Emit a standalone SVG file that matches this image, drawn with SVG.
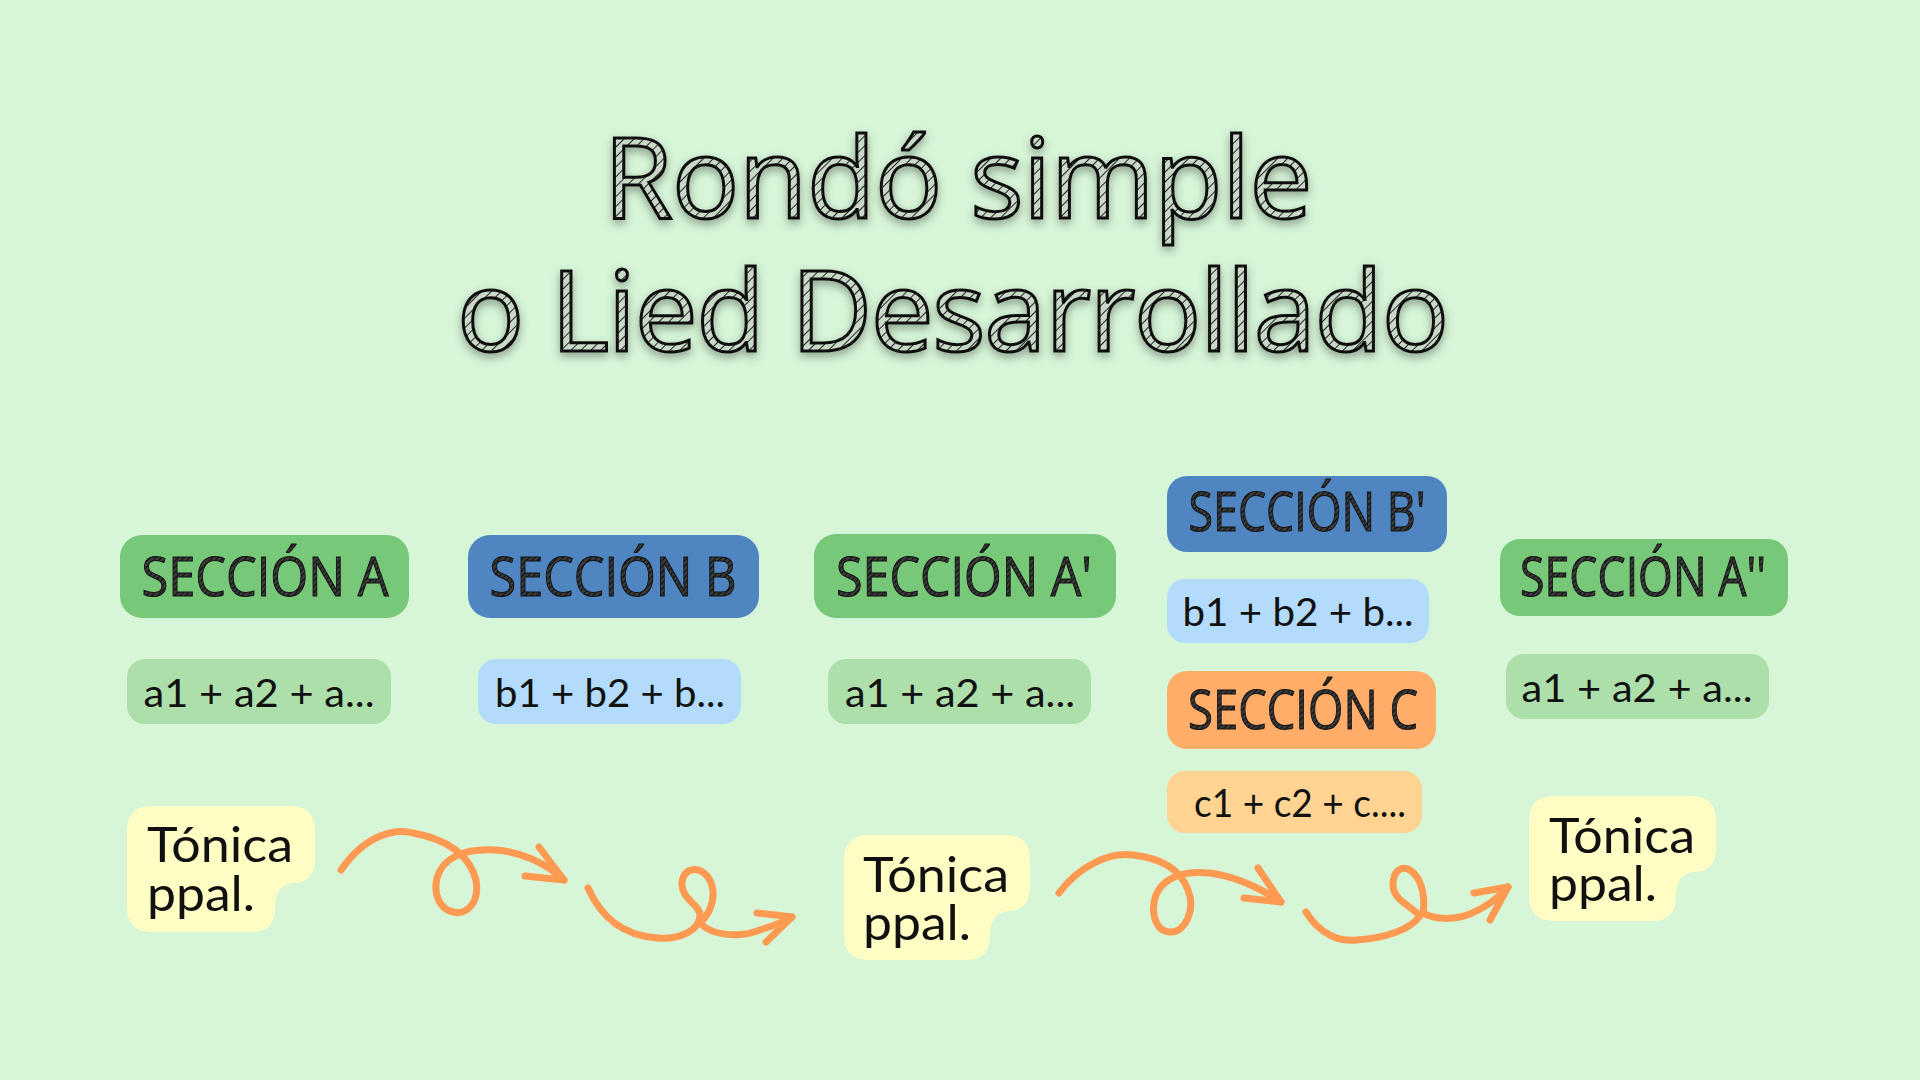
<svg xmlns="http://www.w3.org/2000/svg" width="1920" height="1080" viewBox="0 0 1920 1080">
<defs>
  <pattern id="hatch" width="7" height="7" patternUnits="userSpaceOnUse" patternTransform="rotate(45)">
    <rect width="7" height="7" fill="#c9d9c8"/>
    <line x1="0" y1="0" x2="0" y2="7" stroke="#222" stroke-width="2"/>
  </pattern>
  <pattern id="hatchS" width="4" height="4" patternUnits="userSpaceOnUse" patternTransform="rotate(45)">
    <rect width="4" height="4" fill="#3a3a3a"/>
    <line x1="0" y1="0" x2="0" y2="4" stroke="#000" stroke-width="1.5"/>
  </pattern>
  <filter id="shadow" x="-10%" y="-20%" width="120%" height="140%">
    <feDropShadow dx="0" dy="4" stdDeviation="5" flood-color="#000" flood-opacity="0.35"/>
  </filter>
</defs>
<style>
  .title { font-family: "Open Sans", "Noto Sans", sans-serif; font-size: 112px; fill: url(#hatch); stroke: #111; stroke-width: 3; text-anchor: middle; }
  .head { font-family: "Open Sans", "Noto Sans", sans-serif; font-size: 54px; fill: url(#hatchS); stroke: #111; stroke-width: 1; text-anchor: middle; }
  .sub { font-family: "Lato", "Noto Sans", sans-serif; font-size: 38px; fill: #111; text-anchor: middle; }
  .ton { font-family: "Lato", "Noto Sans", sans-serif; font-size: 48px; fill: #111; }
  .green { fill: #78c87a; }
  .blue { fill: #4f86c2; }
  .orange { fill: #ffad69; }
  .lgreen { fill: #acdfaa; }
  .lblue { fill: #b3dcfc; }
  .lorange { fill: #ffd493; }
  .yellow { fill: #fffdc3; }
  .arrow { fill: none; stroke: #ff9a52; stroke-width: 7; stroke-linecap: round; stroke-linejoin: round; }
</style>
<rect width="1920" height="1080" fill="#d7f6d8"/>

<g id="title" filter="url(#shadow)">
  <text class="title" x="958" y="218" textLength="709" lengthAdjust="spacing">Rondó simple</text>
  <text class="title" x="953" y="351" textLength="992" lengthAdjust="spacing">o Lied Desarrollado</text>
</g>

<g id="seccion-a">
  <rect class="green" x="120" y="535" width="289" height="83" rx="22"/>
  <text class="head" x="265" y="596" textLength="247" lengthAdjust="spacingAndGlyphs">SECCIÓN A</text>
</g>
<g id="seccion-a-detail">
  <rect class="lgreen" x="127" y="659" width="264" height="65" rx="18"/>
  <text class="sub" x="259" y="707" textLength="231" lengthAdjust="spacingAndGlyphs">a1 + a2 + a...</text>
</g>

<g id="seccion-b">
  <rect class="blue" x="468" y="535" width="291" height="83" rx="22"/>
  <text class="head" x="613" y="596" textLength="247" lengthAdjust="spacingAndGlyphs">SECCIÓN B</text>
</g>
<g id="seccion-b-detail">
  <rect class="lblue" x="478" y="659" width="263" height="65" rx="18"/>
  <text class="sub" x="610" y="707" textLength="230" lengthAdjust="spacingAndGlyphs">b1 + b2 + b...</text>
</g>

<g id="seccion-a1">
  <rect class="green" x="814" y="534" width="302" height="84" rx="22"/>
  <text class="head" x="964" y="596" textLength="256" lengthAdjust="spacingAndGlyphs">SECCIÓN A'</text>
</g>
<g id="seccion-a1-detail">
  <rect class="lgreen" x="828" y="659" width="263" height="65" rx="18"/>
  <text class="sub" x="960" y="707" textLength="230" lengthAdjust="spacingAndGlyphs">a1 + a2 + a...</text>
</g>

<g id="seccion-b1">
  <rect class="blue" x="1167" y="476" width="280" height="76" rx="20"/>
  <text class="head" x="1307" y="531" textLength="237" lengthAdjust="spacingAndGlyphs">SECCIÓN B'</text>
</g>
<g id="seccion-b1-detail">
  <rect class="lblue" x="1167" y="579" width="262" height="64" rx="18"/>
  <text class="sub" x="1298" y="626" textLength="231" lengthAdjust="spacingAndGlyphs">b1 + b2 + b...</text>
</g>

<g id="seccion-c">
  <rect class="orange" x="1167" y="671" width="269" height="78" rx="20"/>
  <text class="head" x="1303" y="729" textLength="230" lengthAdjust="spacingAndGlyphs">SECCIÓN C</text>
</g>
<g id="seccion-c-detail">
  <rect class="lorange" x="1167" y="771" width="255" height="62" rx="18"/>
  <text class="sub" x="1300" y="817" textLength="212" lengthAdjust="spacingAndGlyphs">c1 + c2 + c....</text>
</g>

<g id="seccion-a2">
  <rect class="green" x="1500" y="539" width="288" height="77" rx="20"/>
  <text class="head" x="1643" y="596" textLength="246" lengthAdjust="spacingAndGlyphs">SECCIÓN A''</text>
</g>
<g id="seccion-a2-detail">
  <rect class="lgreen" x="1506" y="654" width="263" height="65" rx="18"/>
  <text class="sub" x="1637" y="702" textLength="231" lengthAdjust="spacingAndGlyphs">a1 + a2 + a...</text>
</g>

<g id="tonica-1">
  <path class="yellow" d="M152,806 H290 Q315,806 315,831 V858 Q315,883 293,883 Q275,885 275,907 Q275,932 252,932 H152 Q127,932 127,907 V831 Q127,806 152,806 Z"/>
  <text class="ton"><tspan x="147" y="862" textLength="146" lengthAdjust="spacingAndGlyphs">Tónica</tspan><tspan x="147" y="911" textLength="108" lengthAdjust="spacingAndGlyphs">ppal.</tspan></text>
</g>
<g id="tonica-2">
  <path class="yellow" d="M869,835 H1005 Q1030,835 1030,860 V886 Q1030,911 1008,911 Q990,913 990,935 Q990,960 967,960 H869 Q844,960 844,935 V860 Q844,835 869,835 Z"/>
  <text class="ton"><tspan x="863" y="892" textLength="146" lengthAdjust="spacingAndGlyphs">Tónica</tspan><tspan x="863" y="940" textLength="108" lengthAdjust="spacingAndGlyphs">ppal.</tspan></text>
</g>
<g id="tonica-3">
  <path class="yellow" d="M1554,796 H1691 Q1716,796 1716,821 V847 Q1716,872 1694,872 Q1676,874 1676,896 Q1676,921 1653,921 H1554 Q1529,921 1529,896 V821 Q1529,796 1554,796 Z"/>
  <text class="ton"><tspan x="1549" y="853" textLength="146" lengthAdjust="spacingAndGlyphs">Tónica</tspan><tspan x="1549" y="901" textLength="108" lengthAdjust="spacingAndGlyphs">ppal.</tspan></text>
</g>

<g id="connectors">
  <path class="arrow" d="M341,870 C365,835 395,828 413,833 C440,838 468,850 476,880 C480,905 465,915 453,912 C440,909 433,895 437,878 C442,860 460,848 496,850 C520,852 545,862 564,880"/>
  <path class="arrow" d="M539,847 L564,880 L525,876"/>
  <path class="arrow" d="M588,888 C600,915 620,935 657,938 C680,940 700,930 700,915 C700,905 680,898 682,882 C684,868 698,865 708,877 C718,892 712,912 700,923 C712,936 740,938 760,930 C775,925 785,922 792,917"/>
  <path class="arrow" d="M757,913 L792,917 L766,942"/>
  <path class="arrow" d="M1059,893 C1080,865 1110,852 1133,855 C1160,858 1180,868 1188,890 C1196,910 1185,932 1171,932 C1155,932 1150,912 1156,895 C1162,880 1180,870 1209,873 C1235,876 1260,888 1281,902"/>
  <path class="arrow" d="M1258,868 L1281,902 L1244,898"/>
  <path class="arrow" d="M1306,912 C1320,935 1340,942 1357,940 C1385,938 1410,930 1420,916 C1410,905 1393,900 1393,885 C1393,872 1400,866 1408,869 C1420,875 1426,893 1423,913 C1435,920 1455,920 1470,914 C1485,908 1498,898 1508,887"/>
  <path class="arrow" d="M1474,893 L1508,887 L1490,920"/>
</g>
</svg>
